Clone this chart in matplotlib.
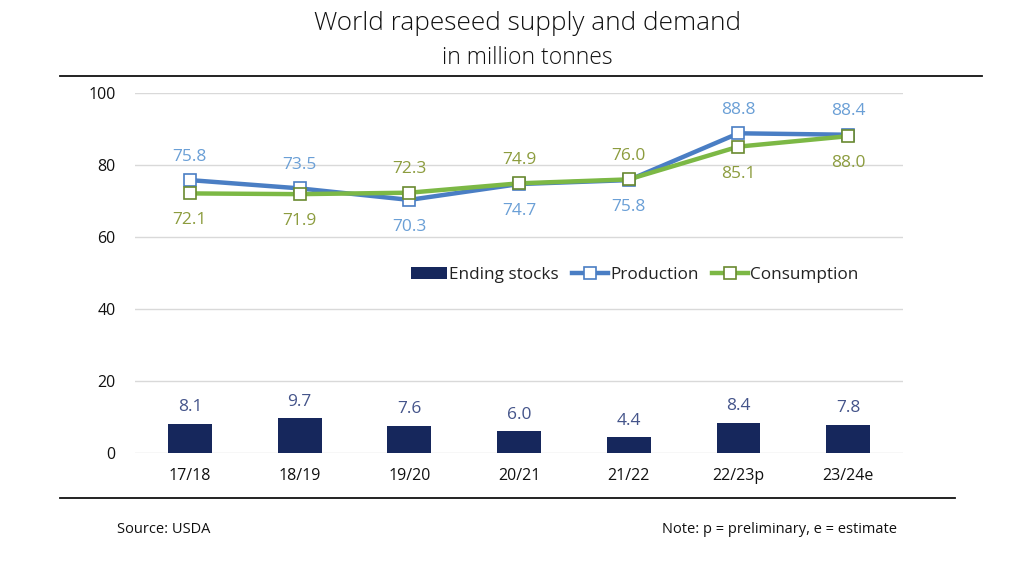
import numpy as np
import matplotlib.pyplot as plt
from matplotlib.lines import Line2D

plt.rcParams['font.family'] = ['Open Sans', 'DejaVu Sans']

seasons = ["17/18", "18/19", "19/20", "20/21", "21/22", "22/23p", "23/24e"]
ending_stocks = [8.1, 9.7, 7.6, 6.0, 4.4, 8.4, 7.8]
production = [75.8, 73.5, 70.3, 74.7, 75.8, 88.8, 88.4]
consumption = [72.1, 71.9, 72.3, 74.9, 76.0, 85.1, 88.0]

bar_col = "#16275c"
prod_col = "#4a7ec4"
prod_txt = "#6a9fd6"
cons_col = "#7cb845"
cons_txt = "#8c9c3e"

fig = plt.figure(figsize=(10.1, 5.68), dpi=100)
ax = fig.add_axes([0.1337, 0.2025, 0.7604, 0.6338])

x = np.arange(len(seasons))
bars = ax.bar(x, ending_stocks, width=0.4, color=bar_col, zorder=2, label="Ending stocks")
l1, = ax.plot(x, production, color=prod_col, lw=3.2, marker="s", ms=8.5, mfc="white",
              mec=prod_col, mew=1.2, zorder=3, label="Production")
l2, = ax.plot(x, consumption, color=cons_col, lw=3.2, marker="s", ms=8.5, mfc="white",
              mec="#6a8a30", mew=1.2, zorder=4, label="Consumption")

for i, v in enumerate(ending_stocks):
    ax.text(i, v + 4.6, f"{v:.1f}", ha="center", va="center", fontsize=12.5, color="#44548a")

for i in range(len(seasons)):
    p, c = production[i], consumption[i]
    if p >= c:
        ax.text(i, p + 6.5, f"{p:.1f}", ha="center", va="center", fontsize=12.5, color=prod_txt)
        ax.text(i, c - 7.5, f"{c:.1f}", ha="center", va="center", fontsize=12.5, color=cons_txt)
    else:
        ax.text(i, c + 6.5, f"{c:.1f}", ha="center", va="center", fontsize=12.5, color=cons_txt)
        ax.text(i, p - 7.5, f"{p:.1f}", ha="center", va="center", fontsize=12.5, color=prod_txt)

ax.set_xlim(-0.5, len(seasons) - 0.5)
ax.set_ylim(0, 100)
ax.set_yticks(range(0, 101, 20))
ax.set_xticks(x)
ax.set_xticklabels(seasons)
ax.grid(axis="y", color="#d9d9d9", lw=1, zorder=0)
ax.set_axisbelow(True)
for s in ax.spines.values():
    s.set_visible(False)
ax.tick_params(axis="both", length=0, labelsize=11.5, colors="#111111", pad=11)
ax.tick_params(axis="y", pad=14)

ax.legend([bars, l1, l2], ["Ending stocks", "Production", "Consumption"],
          loc="center right", bbox_to_anchor=(0.962, 0.495), ncol=3, frameon=False,
          fontsize=12.3, handlelength=2.1, handletextpad=0.15, columnspacing=0.75,
          labelcolor="#222222")

fig.text(0.522, 0.958, "World rapeseed supply and demand", ha="center", va="center",
         fontsize=18.8, fontweight="light", color="#111111")
fig.text(0.522, 0.898, "in million tonnes", ha="center", va="center",
         fontsize=16.5, fontweight="light", color="#111111")

fig.add_artist(Line2D([0.059, 0.972], [0.866, 0.866], transform=fig.transFigure,
                      color="#111111", lw=1.3))
fig.add_artist(Line2D([0.059, 0.946], [0.123, 0.123], transform=fig.transFigure,
                      color="#111111", lw=1.3))

fig.text(0.116, 0.067, "Source: USDA", ha="left", va="center", fontsize=10.5, color="#111111")
fig.text(0.888, 0.067, "Note: p = preliminary, e = estimate", ha="right", va="center",
         fontsize=10.5, color="#111111")

fig.savefig("out.png", dpi=100)
